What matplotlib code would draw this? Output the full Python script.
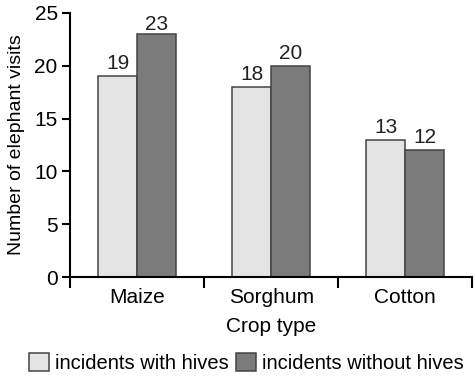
import matplotlib.pyplot as plt
import numpy as np

plt.rcParams['font.family'] = ['Liberation Sans', 'DejaVu Sans']

crops = ['Maize', 'Sorghum', 'Cotton']
with_hives = [19, 18, 13]
without_hives = [23, 20, 12]
yticks = [0, 5, 10, 15, 20, 25]

light = '#e4e4e4'
dark = '#7b7b7b'
edge = '#444444'

fig = plt.figure(figsize=(4.74, 3.79), dpi=100)
ax = fig.add_axes([0.148, 0.269, 0.848, 0.697])

x = np.arange(len(crops))
w = 0.29
b1 = ax.bar(x - w / 2, with_hives, w, color=light, edgecolor=edge, linewidth=1.1,
            label='incidents with hives')
b2 = ax.bar(x + w / 2, without_hives, w, color=dark, edgecolor=edge, linewidth=1.1,
            label='incidents without hives')
for bars, vals in ((b1, with_hives), (b2, without_hives)):
    for r, v in zip(bars, vals):
        off = 0.65 if v < 22 else 0.35
        ax.text(r.get_x() + r.get_width() / 2, v + off, str(v),
                ha='center', va='baseline', fontsize=15, color='#222222')

ax.set_xlim(-0.5, 2.5)
ax.set_ylim(0, 25)
ax.set_yticks(yticks)
ax.set_xticks([-0.5, 0.5, 1.5, 2.5])
ax.set_xticklabels([])
ax.set_xticks(x, minor=True)
ax.set_xticklabels(crops, minor=True, fontsize=15)
ax.tick_params(axis='x', which='minor', length=0, pad=8)
ax.tick_params(axis='x', which='major', length=8, width=1.5, direction='out')
ax.tick_params(axis='y', length=6, width=1.5, labelsize=15, pad=3)

for s in ['top', 'right']:
    ax.spines[s].set_visible(False)
for s in ['left', 'bottom']:
    ax.spines[s].set_linewidth(1.5)

ax.set_ylabel('Number of elephant visits', fontsize=14, labelpad=7)
ax.set_xlabel('Crop type', fontsize=15, labelpad=7)

fig.legend(handles=[b1, b2], loc='lower center', bbox_to_anchor=(0.52, -0.015),
           ncol=2, frameon=False, fontsize=14.5, handlelength=1.0,
           handleheight=1.0, handletextpad=0.3, columnspacing=0.35,
           borderaxespad=0.2)

fig.savefig('out.png', dpi=100)
